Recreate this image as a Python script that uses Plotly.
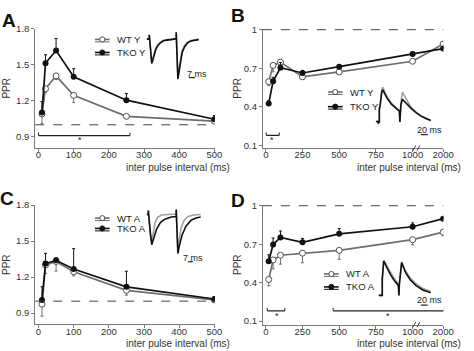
import plotly.graph_objects as go

W, H = 474, 351
def px(x): return x / W
def py(y): return 1 - y / H

# ---------------- data ----------------
short_ipi = [10, 20, 50, 100, 250, 500]
long_ipi = [20, 50, 100, 250, 500, 1000, 2000]

# Panel A (young, short intervals)
wt_y_a = [1.09, 1.30, 1.407, 1.245, 1.07, 1.03]
wt_err_a = [0.08, 0.03, 0.03, 0.06, 0.015, 0.02]
tko_y_a = [1.103, 1.513, 1.618, 1.40, 1.205, 1.046]
tko_err_a = [0.09, 0.07, 0.10, 0.067, 0.055, 0.03]

# Panel B (young, long intervals)
wt_y_b = [0.596, 0.723, 0.748, 0.634, 0.672, 0.755, 0.889]
wt_err_b = [0.03, 0.05, 0.04, 0.01, 0.01, 0.01, 0.02]
tko_y_b = [0.428, 0.60, 0.705, 0.664, 0.713, 0.811, 0.853]
tko_err_b = [0.02, 0.03, 0.04, 0.02, 0.01, 0.01, 0.01]

# Panel C (adult, short intervals)
wt_y_c = [0.975, 1.30, 1.33, 1.245, 1.09, 1.01]
wt_err_c = [0.10, 0.07, 0.08, 0.035, 0.04, 0.01]
tko_y_c = [1.01, 1.313, 1.34, 1.267, 1.119, 1.018]
tko_err_c = [0.11, 0.085, 0.02, 0.17, 0.13, 0.02]

# Panel D (adult, long intervals)
wt_y_d = [0.425, 0.577, 0.614, 0.63, 0.652, 0.735, 0.794]
wt_err_d = [0.05, 0.07, 0.07, 0.075, 0.07, 0.04, 0.03]
tko_y_d = [0.567, 0.698, 0.753, 0.715, 0.781, 0.836, 0.899]
tko_err_d = [0.05, 0.05, 0.05, 0.03, 0.04, 0.03, 0.01]

short_ticks = [0, 100, 200, 300, 400, 500]
long_ticks = [0, 250, 500, 750, 1000, 2000]
ppr_ticks_short = [0.9, 1.2, 1.5, 1.8]
ppr_ticks_long = [0.1, 0.4, 0.7, 1.0]
ppr_text_long = ["0.1", "0.4", "0.7", "1"]

# significance brackets (interval start, end, level, star x, star y)
sig_a = [(0, 260, 0.91, 117, 0.875)]
sig_b = [(3, 92, 0.18, 41, 0.145)]
sig_d = [(10, 130, 0.18, 75, 0.14), (459, 2100, 0.18, 832, 0.14)]

# example traces for insets (time in a.u., amplitude in a.u.)
ins_a_t = [0, 2.5, 2.5, 3, 4, 5, 6, 7.5, 9, 11, 13.5, 16.5, 20, 25, 29.5, 30, 30, 30.5, 31, 31.7, 32.5, 34, 36, 38.5, 41.5, 45, 49, 53]
ins_a_tko = [0, 0, 4.5, -1, -14, -25, -22, -16, -11, -7, -4, -2, -1, -0.5, 0.5, 0.5, 7, -2, -21, -41, -36, -24, -14, -8, -4, -2, -1, -0.5]
ins_a_wt = [0, 0, 4.5, -1, -13, -23, -20, -14, -9.5, -6, -3.5, -1.5, -0.5, 0, 0.5, 0.5, 7, -2, -20, -38, -33, -21, -12, -6.5, -3, -1.5, -0.5, 0]

ins_b_t = [1, 3, 3.5, 4.5, 4.5, 5.5, 7, 8, 10, 13, 17, 21, 25, 25.5, 26, 26.5, 28, 30, 33, 37, 42, 47, 52, 57]
ins_b_wt = [0.5, 0.5, -1, 0, 14, 19, 33, 35.7, 31, 25, 19, 15, 11.5, 0, 9, 19, 30.7, 27, 21, 15, 10, 6.5, 4, 2]
ins_b_tko = [0.5, 0.5, -1, 0, 13, 18, 31, 33, 29, 23.5, 18, 14, 11, 0, 9, 17, 23.3, 21, 18, 14, 9.5, 6, 3.5, 1.5]

ins_c_t_tko = [0, 1.5, 1.5, 2, 3.5, 5, 7, 10, 14, 19, 25, 30, 30, 30.5, 31, 31.7, 33, 36, 40, 45, 50, 55]
ins_c_tko = [0, 0, 4, -4, -18, -31, -24, -15, -8, -4.5, -2.5, -2, 5, -6, -26, -40, -33, -21, -12, -6, -3.5, -2.5]
ins_c_t_wt = [0, 1.5, 1.5, 2, 3.5, 5, 6.5, 8.5, 11, 15, 22, 30, 30, 30.5, 31, 31.7, 33, 35, 38, 42, 48, 55]
ins_c_wt = [0, 0, 4, -4, -19, -28, -18, -8, -3, -0.5, 0, 0.5, 5, -6, -24, -37, -26, -14, -6, -2, -0.5, 0]

ins_d_t = [0, 3.5, 3.5, 4.5, 5, 8, 12, 16, 20, 20.5, 21, 23.3, 27, 32, 38, 45, 53]
ins_d_tko = [0, 0, 17, 32, 35.3, 29, 21, 15, 10, 0, 12, 33.7, 24, 16, 10, 5.5, 2.7]
ins_d_wt = [0, 0, 17, 33, 36, 30.5, 23, 17, 12, 0, 12, 34.5, 25.5, 18, 12, 7, 4]


def broken(t):
    # axis with a break after 1000 ms
    return t if t <= 1000 else 1000 + (t - 1000) * 0.208


FONT = "Liberation Sans"
WT_LINE = "#6e6e6e"
WT_EDGE = "#505050"
BLACK = "#111111"
AX = "#7a7a7a"

fig = go.Figure()

def add_panel(xs, wt, wte, tko, tkoe, xa, ya):
    fig.add_trace(go.Scatter(
        x=xs, y=wt, mode="lines+markers", xaxis=xa, yaxis=ya, showlegend=False,
        line=dict(color=WT_LINE, width=1.7),
        marker=dict(symbol="circle", size=6, color="white", line=dict(color=WT_EDGE, width=1)),
        error_y=dict(type="data", symmetric=False, array=[0] * len(wte), arrayminus=wte,
                     color=WT_LINE, thickness=1, width=1.5)))
    fig.add_trace(go.Scatter(
        x=xs, y=tko, mode="lines+markers", xaxis=xa, yaxis=ya, showlegend=False,
        line=dict(color=BLACK, width=1.7),
        marker=dict(symbol="circle", size=6, color=BLACK),
        error_y=dict(type="data", symmetric=False, array=tkoe, arrayminus=[0] * len(tkoe),
                     color=BLACK, thickness=1, width=1.5)))

add_panel(short_ipi, wt_y_a, wt_err_a, tko_y_a, tko_err_a, "x", "y")
add_panel([broken(t) for t in long_ipi], wt_y_b, wt_err_b, tko_y_b, tko_err_b, "x2", "y2")
add_panel(short_ipi, wt_y_c, wt_err_c, tko_y_c, tko_err_c, "x3", "y3")
add_panel([broken(t) for t in long_ipi], wt_y_d, wt_err_d, tko_y_d, tko_err_d, "x4", "y4")

# insets
def add_inset(t_wt, wt, t_tko, tko, xa, ya):
    fig.add_trace(go.Scatter(x=t_wt, y=wt, mode="lines", xaxis=xa, yaxis=ya, showlegend=False,
                             line=dict(color="#a0a0a0", width=1.6)))
    fig.add_trace(go.Scatter(x=t_tko, y=tko, mode="lines", xaxis=xa, yaxis=ya, showlegend=False,
                             line=dict(color=BLACK, width=1.6)))

add_inset(ins_a_t, ins_a_wt, ins_a_t, ins_a_tko, "x5", "y5")
add_inset(ins_b_t, ins_b_wt, ins_b_t, ins_b_tko, "x6", "y6")
add_inset(ins_c_t_wt, ins_c_wt, ins_c_t_tko, ins_c_tko, "x7", "y7")
add_inset(ins_d_t, ins_d_wt, ins_d_t, ins_d_tko, "x8", "y8")

base_ax = dict(showline=True, linecolor=AX, linewidth=1, ticks="outside", ticklen=3,
               tickcolor=AX, tickwidth=1, showgrid=False, zeroline=False,
               tickfont=dict(family=FONT, size=9.5, color="#333"))

def yax(dom, rng, tv, tt, anchor, standoff):
    d = dict(base_ax)
    d.update(domain=dom, range=rng, tickvals=tv, ticktext=tt, anchor=anchor,
             title=dict(text="PPR", font=dict(family=FONT, size=10, color="#333"), standoff=standoff))
    return d

def xax(dom, rng, tv, tt, anchor):
    d = dict(base_ax)
    d.update(domain=dom, range=rng, tickvals=tv, ticktext=tt, anchor=anchor,
             ticklabelstandoff=-5)
    return d

short_text = [str(v) for v in short_ticks]
long_pos = [broken(t) for t in long_ticks]
long_text = [str(v) for v in long_ticks]
short_tt = [f"{v:.1f}" for v in ppr_ticks_short]

layout = dict(
    width=W, height=H, margin=dict(l=0, r=0, t=0, b=0),
    paper_bgcolor="white", plot_bgcolor="rgba(0,0,0,0)",
    font=dict(family=FONT, color="#333"),
    xaxis=xax([px(36), px(219.5)], [-9.2, 501.4], short_ticks, short_text, "y"),
    yaxis=yax([py(145.7), py(23.3)], [0.807, 1.8], ppr_ticks_short, short_tt, "x", 3),
    xaxis2=xax([px(268.5), px(453)], [-20, 1210], long_pos, long_text, "y2"),
    yaxis2=yax([py(145.7), py(23.3)], [0.082, 1.0076], ppr_ticks_long, ppr_text_long, "x2", 0),
    xaxis3=xax([px(36), px(219.5)], [-9.2, 501.4], short_ticks, short_text, "y3"),
    yaxis3=yax([py(326.7), py(204.3)], [0.807, 1.8], ppr_ticks_short, short_tt, "x3", 3),
    xaxis4=xax([px(268.5), px(453)], [-20, 1210], long_pos, long_text, "y4"),
    yaxis4=yax([py(327), py(204)], [0.0724, 1.0076], ppr_ticks_long, ppr_text_long, "x4", 0),
)

hidden = dict(visible=False, showgrid=False, zeroline=False, fixedrange=True)
layout["xaxis5"] = dict(hidden, domain=[px(148), px(212)], range=[-2, 62], anchor="y5")
layout["yaxis5"] = dict(hidden, domain=[py(80), py(24)], range=[-46, 10], anchor="x5")
layout["xaxis6"] = dict(hidden, domain=[px(383), px(450)], range=[0, 67], anchor="y6")
layout["yaxis6"] = dict(hidden, domain=[py(122), py(80)], range=[-3, 39], anchor="x6")
layout["xaxis7"] = dict(hidden, domain=[px(148), px(212)], range=[-2, 62], anchor="y7")
layout["yaxis7"] = dict(hidden, domain=[py(265), py(205)], range=[-51, 9], anchor="x7")
layout["xaxis8"] = dict(hidden, domain=[px(386), px(450)], range=[-1, 63], anchor="y8")
layout["yaxis8"] = dict(hidden, domain=[py(300), py(258)], range=[-3, 39], anchor="x8")

fig.update_layout(**layout)

shapes = []
annotations = []

# dashed unity lines
for xa, ya in [("x", "y"), ("x2", "y2"), ("x3", "y3"), ("x4", "y4")]:
    shapes.append(dict(type="line", xref=f"{xa} domain", x0=0, x1=1, yref=ya, y0=1, y1=1,
                       line=dict(color="#444", width=1, dash="dash")))

# significance brackets
def add_sig(sigs, xa, ya, tick):
    for x0, x1, lvl, sx, sy in sigs:
        shapes.append(dict(type="line", xref=xa, yref=ya, x0=x0, x1=x1, y0=lvl, y1=lvl,
                           line=dict(color="#222", width=1.3)))
        for xe in (x0, x1):
            shapes.append(dict(type="line", xref=xa, yref=ya, x0=xe, x1=xe, y0=lvl, y1=lvl + tick,
                               line=dict(color="#222", width=1)))
        annotations.append(dict(text="*", xref=xa, yref=ya, x=sx, y=sy, showarrow=False,
                                font=dict(family=FONT, size=9, color="#222")))

add_sig(sig_a, "x", "y", 0.025)
add_sig(sig_b, "x2", "y2", 0.022)
add_sig([(a, min(b, 1215), c, d, e) for a, b, c, d, e in sig_d], "x4", "y4", 0.022)

# axis break marks (two short slanted strokes on the x axis)
for xa, ya in [("x2", "y2 domain"), ("x4", "y4 domain")]:
    for xb in (1012, 1040):
        shapes.append(dict(type="line", xref=xa, yref=ya, x0=xb - 10, x1=xb + 10,
                           y0=-0.022, y1=0.022, line=dict(color="#444", width=1)))

# x axis titles
for xr, yy in [(237, 166), (473, 166), (237, 346.5), (473, 346.5)]:
    annotations.append(dict(text="inter pulse interval (ms)", xref="paper", yref="paper",
                            x=px(xr), y=py(yy), xanchor="right", yanchor="middle", showarrow=False,
                            font=dict(family=FONT, size=10, color="#333")))

# panel letters
for t, xc, yc in [("A", 9.5, 14.5), ("B", 243.5, 9.5), ("C", 7.5, 197.5), ("D", 243.5, 200)]:
    annotations.append(dict(text=f"<b>{t}</b>", xref="paper", yref="paper", x=px(xc), y=py(yc),
                            xanchor="center", yanchor="middle", showarrow=False,
                            font=dict(family=FONT, size=19, color="#111")))

# legends (keys drawn as layout shapes)
legends = [
    (97, 112, 117, 34.3, 47.7, "WT Y", "TKO Y"),
    (335, 350, 355, 88.3, 103.3, "WT Y", "TKO Y"),
    (97, 112, 117, 217.7, 228.3, "WT A", "TKO A"),
    (331, 346, 351, 275, 288.3, "WT A", "TKO A"),
]
for x0, x1, xt, y_wt, y_tko, l_wt, l_tko in legends:
    for yy, col, fill, lab in [(y_wt, WT_LINE, "white", l_wt), (y_tko, BLACK, BLACK, l_tko)]:
        shapes.append(dict(type="line", xref="paper", yref="paper", x0=px(x0), x1=px(x1),
                           y0=py(yy), y1=py(yy), line=dict(color=col, width=1.6)))
        shapes.append(dict(type="line", xref="paper", yref="paper", x0=px(x0), x1=px(x1),
                           y0=py(yy + 2.5), y1=py(yy + 2.5), line=dict(color=col, width=1)))
        xc = (x0 + x1) / 2
        shapes.append(dict(type="circle", xref="paper", yref="paper", x0=px(xc - 2.6), x1=px(xc + 2.6),
                           y0=py(yy + 2.6), y1=py(yy - 2.6), fillcolor=fill,
                           line=dict(color=WT_EDGE if fill == "white" else BLACK, width=1)))
        annotations.append(dict(text=lab, xref="paper", yref="paper", x=px(xt), y=py(yy),
                                xanchor="left", yanchor="middle", showarrow=False,
                                font=dict(family=FONT, size=9.5, color="#222")))

# inset scale bars (paper pixel positions)
scale_bars = [(193, 199, 73.5, 201.5, 70, "7 ms"),
              (430, 437, 132, 438.5, 127, "20 ms"),
              (192, 197, 262.5, 197.5, 258.3, "7 ms"),
              (430, 437, 307, 438.5, 302, "20 ms")]
for b0, b1, by, tx, ty, lab in scale_bars:
    shapes.append(dict(type="line", xref="paper", yref="paper", x0=px(b0), x1=px(b1),
                       y0=py(by), y1=py(by), line=dict(color="#222", width=1.2)))
    annotations.append(dict(text=lab, xref="paper", yref="paper", x=px(tx), y=py(ty), showarrow=False,
                            xanchor="center", yanchor="middle",
                            font=dict(family=FONT, size=9, color="#222")))

fig.update_layout(shapes=shapes, annotations=annotations, showlegend=False)
fig.write_html("out.html")
